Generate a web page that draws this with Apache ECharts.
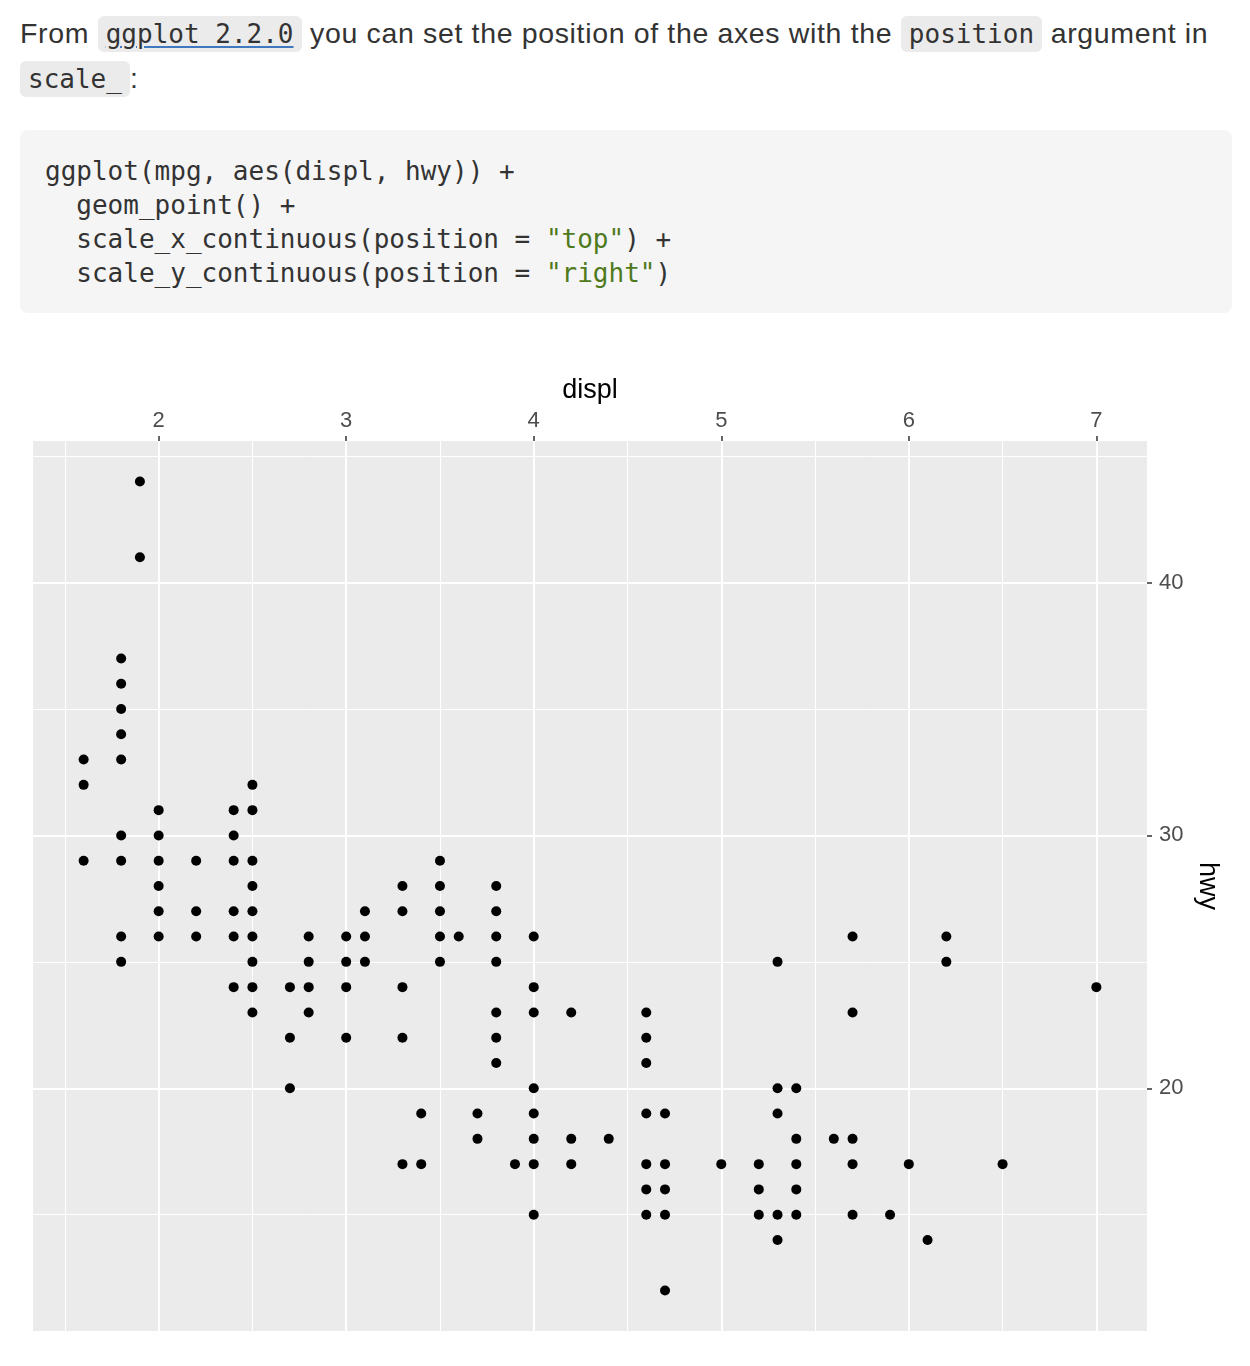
<!DOCTYPE html>
<html>
<head>
<meta charset="utf-8">
<script src="https://cdn.jsdelivr.net/npm/echarts@6/dist/echarts.min.js"></script>
<style>
  html, body { margin: 0; padding: 0; background: #fff; overflow: hidden; width: 1250px; height: 1366px; }
  #intro { position: absolute; left: 20px; top: 11px; width: 1225px; margin: 0;
    font-family: 'Liberation Sans', Arial, sans-serif; font-size: 28.5px; letter-spacing: 0.65px; line-height: 44px; color: #333; white-space: nowrap; }
  code.il { font-family: 'DejaVu Sans Mono', monospace; font-size: 26px; letter-spacing: 0; background: #ebebeb; border-radius: 6px; padding: 3px 8px; color: #333; }
  code.il a { color: #333; text-decoration: underline; text-decoration-color: #4078c0; text-underline-offset: 3px; }
  pre#code { position: absolute; left: 20px; top: 130px; width: 1187px; height: 136px; margin: 0;
    padding: 24px 0 23px 25px; background: #f5f5f5; border-radius: 8px;
    font-family: 'DejaVu Sans Mono', monospace; font-size: 26px; line-height: 34px; color: #333; }
  pre#code .s { color: #4f7a1c; }
  #chart { position: absolute; left: 0; top: 330px; width: 1250px; height: 1036px; }
</style>
</head>
<body>
<p id="intro">From <code class="il"><a>ggplot 2.2.0</a></code> you can set the position of the axes with the <code class="il">position</code> argument in<br><code class="il">scale_</code>:</p>
<pre id="code">ggplot(mpg, aes(displ, hwy)) +
  geom_point() +
  scale_x_continuous(position = <span class="s">"top"</span>) +
  scale_y_continuous(position = <span class="s">"right"</span>)</pre>
<div id="chart"></div>
<script>
// Unique visible (displ, hwy) points
const displ = [
  1.6,1.6,1.6,
  1.8,1.8,1.8,1.8,1.8,1.8,1.8,1.8,1.8,
  1.9,1.9,
  2.0,2.0,2.0,2.0,2.0,2.0,
  2.2,2.2,2.2,
  2.4,2.4,2.4,2.4,2.4,2.4,
  2.5,2.5,2.5,2.5,2.5,2.5,2.5,2.5,2.5,
  2.7,2.7,2.7,
  2.8,2.8,2.8,2.8,
  3.0,3.0,3.0,3.0,
  3.1,3.1,3.1,
  3.3,3.3,3.3,3.3,3.3,
  3.4,3.4,
  3.5,3.5,3.5,3.5,3.5,
  3.6,
  3.7,3.7,
  3.8,3.8,3.8,3.8,3.8,3.8,3.8,
  3.9,
  4.0,4.0,4.0,4.0,4.0,4.0,4.0,4.0,
  4.2,4.2,4.2,
  4.4,
  4.6,4.6,4.6,4.6,4.6,4.6,4.6,
  4.7,4.7,4.7,4.7,4.7,
  5.0,
  5.2,5.2,5.2,
  5.3,5.3,5.3,5.3,5.3,
  5.4,5.4,5.4,5.4,5.4,
  5.6,
  5.7,5.7,5.7,5.7,5.7,
  5.9,
  6.0,
  6.1,
  6.2,6.2,
  6.5,
  7.0
];
const hwy = [
  33,32,29,
  37,36,35,34,33,30,29,26,25,
  44,41,
  31,30,29,28,27,26,
  29,27,26,
  31,30,29,27,26,24,
  32,31,29,28,27,26,25,24,23,
  24,22,20,
  26,25,24,23,
  26,25,24,22,
  27,26,25,
  28,27,24,22,17,
  19,17,
  29,28,27,26,25,
  26,
  19,18,
  28,27,26,25,23,22,21,
  17,
  26,24,23,20,19,18,17,15,
  23,18,17,
  18,
  23,22,21,19,17,16,15,
  19,17,16,15,12,
  17,
  17,16,15,
  25,20,19,15,14,
  20,18,17,16,15,
  18,
  26,23,18,17,15,
  15,
  17,
  14,
  26,25,
  17,
  24
];
const xTicks = [2, 3, 4, 5, 6, 7];
const yTicks = [20, 30, 40];
const xRange = [1.33, 7.27];
const yRange = [10.4, 45.6];

const points = displ.map((d, i) => [d, hwy[i]]);

const chart = echarts.init(document.getElementById('chart'), null, { renderer: 'canvas' });
const labelFont = 'Liberation Sans, Arial, sans-serif';
chart.setOption({
  animation: false,
  backgroundColor: '#ffffff',
  grid: { left: 33, right: 103, top: 111, bottom: 35, show: true, backgroundColor: '#ebebeb', borderWidth: 0, containLabel: false },
  xAxis: {
    type: 'value', position: 'top', min: xRange[0], max: xRange[1],
    minInterval: 1, maxInterval: 1,
    name: 'displ', nameLocation: 'middle', nameGap: 37,
    nameTextStyle: { fontSize: 27, color: '#000', fontFamily: labelFont },
    axisLine: { show: false, onZero: false },
    axisTick: { show: true, length: 5, lineStyle: { color: '#333', width: 1.5 }, customValues: xTicks },
    axisLabel: { show: true, margin: 9, fontSize: 22, color: '#4d4d4d', fontFamily: labelFont, customValues: xTicks },
    splitLine: { show: true, lineStyle: { color: '#ffffff', width: 2 } },
    minorTick: { show: false, splitNumber: 2 },
    minorSplitLine: { show: true, lineStyle: { color: '#ffffff', width: 1 } }
  },
  yAxis: {
    type: 'value', position: 'right', min: yRange[0], max: yRange[1],
    minInterval: 10, maxInterval: 10,
    name: 'hwy', nameLocation: 'middle', nameGap: 40, nameRotate: -90,
    nameTextStyle: { fontSize: 27, color: '#000', fontFamily: labelFont },
    axisLine: { show: false, onZero: false },
    axisTick: { show: true, length: 5, lineStyle: { color: '#333', width: 1.5 }, customValues: yTicks },
    axisLabel: { show: true, margin: 12, fontSize: 22, color: '#4d4d4d', fontFamily: labelFont, customValues: yTicks },
    splitLine: { show: true, lineStyle: { color: '#ffffff', width: 2 } },
    minorTick: { show: false, splitNumber: 2 },
    minorSplitLine: { show: true, lineStyle: { color: '#ffffff', width: 1 } }
  },
  series: [{
    type: 'scatter',
    data: points,
    symbol: 'circle',
    symbolSize: 10,
    itemStyle: { color: '#000000', opacity: 1 },
    emphasis: { disabled: true },
    silent: true
  }]
});
</script>
</body>
</html>
